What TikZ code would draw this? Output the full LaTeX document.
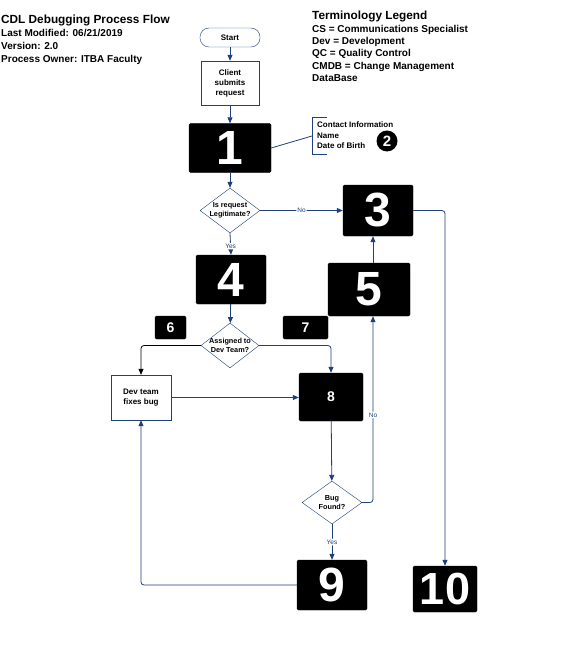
\documentclass[tikz,border=0pt]{standalone}
\usepackage{fontspec}
\setmainfont{Liberation Sans}
\usetikzlibrary{shapes.geometric,arrows.meta,positioning}
\definecolor{flowblue}{RGB}{31,63,125}
\tikzstyle{blackbox} = [draw=black, fill=black, text=white, inner sep=0pt, rounded corners=1.5pt]
\tikzstyle{bignum}   = [blackbox, font=\bfseries\fontsize{48}{48}\selectfont]
\tikzstyle{smallnum} = [blackbox, font=\bfseries\fontsize{14}{14}\selectfont]
\tikzstyle{process}  = [draw=flowblue, fill=white, align=center, inner sep=0pt, font=\bfseries\fontsize{8}{10}\selectfont]
\tikzstyle{decision} = [diamond, draw=flowblue, fill=white, align=center, inner sep=-4pt, aspect=1.33, font=\bfseries\fontsize{7.3}{9}\selectfont]
\tikzstyle{arrow}    = [flowblue, line width=0.8pt, rounded corners=3pt, -{Triangle[length=6pt,width=5pt]}]
\tikzstyle{flowlabel}= [fill=white, text=flowblue, inner sep=1pt, font=\fontsize{6.5}{6.5}\selectfont]

\begin{document}
\begin{tikzpicture}[x=1pt,y=-1pt]
    \useasboundingbox (0,0) rectangle (567,650);

    % header and legend
    \node[anchor=north west, align=left, inner sep=0pt, font=\bfseries\fontsize{10}{12.8}\selectfont] (header) at (1,15)
        {{\fontsize{11.8}{12}\selectfont CDL Debugging Process Flow}\\Last Modified: 06/21/2019\\Version: 2.0\\Process Owner: ITBA Faculty};
    \node[anchor=north west, align=left, inner sep=0pt, font=\bfseries\fontsize{10}{12.4}\selectfont] (legend) at (312,11)
        {{\fontsize{11.8}{12}\selectfont Terminology Legend}\\CS = Communications Specialist\\Dev = Development\\QC = Quality Control\\CMDB = Change Management\\DataBase};

    % nodes
    \node[draw=flowblue, rounded corners=9pt, minimum width=60pt, minimum height=19pt, font=\bfseries\fontsize{8}{8}\selectfont] (start) at (230,37.5) {Start};
    \node[process, minimum width=58pt, minimum height=44pt] (client) at (230,83) {Client\\submits\\request};
    \node[bignum, minimum width=82pt, minimum height=49pt] (one) at (230,148) {1};
    \node[anchor=west, align=left, inner sep=0pt, font=\bfseries\fontsize{8}{10.5}\selectfont] (info) at (317,135.5) {Contact Information\\Name\\Date of Birth};
    \node[circle, fill=black, text=white, inner sep=0pt, minimum size=21pt, font=\bfseries\fontsize{15}{15}\selectfont] (two) at (387,141) {2};
    \node[decision, minimum width=60pt, minimum height=45pt] (legit) at (230,210.5) {Is request\\Legitimate?};
    \node[bignum, minimum width=70pt, minimum height=51pt] (three) at (378,210.5) {3};
    \node[bignum, minimum width=70pt, minimum height=49pt] (four) at (231,279.5) {4};
    \node[bignum, minimum width=82pt, minimum height=53pt] (five) at (369,289.5) {5};
    \node[smallnum, minimum width=31pt, minimum height=23pt] (six) at (170.5,327.5) {6};
    \node[smallnum, minimum width=45pt, minimum height=23pt] (seven) at (305.5,327.5) {7};
    \node[decision, minimum width=58pt, minimum height=45pt] (assigned) at (230,345.5) {Assigned to\\Dev Team?};
    \node[process, minimum width=60pt, minimum height=45pt] (fix) at (141,397.5) {Dev team\\fixes bug};
    \node[smallnum, minimum width=64pt, minimum height=48pt] (eight) at (331,397) {8};
    \node[decision, minimum width=60pt, minimum height=43pt] (bugfound) at (332,502.5) {Bug\\Found?};
    \node[bignum, minimum width=70pt, minimum height=50pt] (nine) at (332,585) {9};
    \node[bignum, minimum width=64pt, minimum height=46pt, font=\bfseries\fontsize{45}{45}\selectfont] (ten) at (445,589) {10};

    % bracket for the request data
    \coordinate (brtop) at (327,117);
    \coordinate (brbot) at (327,154);
    \draw[flowblue, line width=0.8pt] (brtop) -- (312,117) -- (312,154) -- (brbot);
    \draw[flowblue, line width=0.8pt] (one.east) -- (312,136);

    % connectors
    \draw[arrow] (start) -- (client);
    \draw[arrow] (client) -- (one);
    \draw[arrow] (one) -- (legit);
    \draw[arrow] (legit.east) -- node[flowlabel] {No} (three.west);
    \draw[arrow] (legit.south) -- node[flowlabel, pos=0.6] {Yes} (four.north);
    \draw[arrow] (three.east) -- (ten.north |- three.east) -- (ten.north);
    \draw[arrow] ([xshift=4pt]five.north) -- ([xshift=4pt]five.north |- three.south);
    \draw[arrow] (four) -- (assigned);
    \draw[arrow, black] (assigned.west) -- (fix.north |- assigned.west) -- (fix.north);
    \draw[arrow] (assigned.east) -- (eight.north |- assigned.east) -- (eight.north);
    \draw[arrow] (fix.east) -- (fix.east -| eight.west);
    \draw[arrow] (eight) -- (bugfound);
    \coordinate (noturn) at (373,502.5);
    \draw[arrow] (bugfound.east) -- (noturn) -- node[flowlabel, pos=0.47] {No} ([xshift=4pt]five.south);
    \draw[arrow] (bugfound.south) -- node[flowlabel, pos=0.5] {Yes} (nine.north);
    \draw[arrow] (nine.west) -- (fix.south |- nine.west) -- (fix.south);
\end{tikzpicture}
\end{document}
